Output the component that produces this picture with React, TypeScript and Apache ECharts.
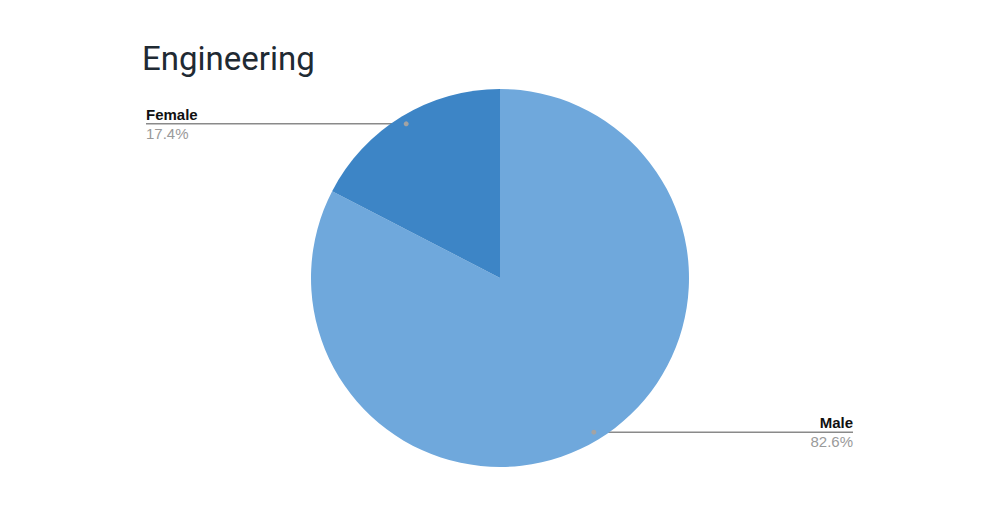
import { useEffect, useRef } from "react";
import * as echarts from "echarts";

const TITLE = "Engineering";
const NAMES = ["Male", "Female"];
const VALUES = [82.6, 17.4];
const COLORS = ["#6fa8dc", "#3d85c6"];

const CX = 500;
const CY = 278;
const R = 189;

// mid angle of each slice (start at 12 o'clock, clockwise)
function midAngles(values: number[]) {
  const total = values.reduce((a, b) => a + b, 0);
  let acc = 0;
  return values.map((v) => {
    const mid = acc + v / 2;
    acc += v;
    return Math.PI / 2 - (mid / total) * Math.PI * 2;
  });
}

export default function App() {
  const ref = useRef<HTMLDivElement>(null);

  useEffect(() => {
    if (!ref.current) return;
    const chart = echarts.init(ref.current, undefined, { renderer: "svg" });

    const mids = midAngles(VALUES);
    const anchors = mids.map((a) => [CX + Math.cos(a) * R * 0.955, CY - Math.sin(a) * R * 0.955]);
    // label edge: right side labels right-aligned, left side left-aligned
    const labelX = [853, 146];

    chart.setOption({
      animation: false,
      title: {
        text: TITLE,
        left: 137,
        top: 37,
        textStyle: {
          fontFamily: "Roboto",
          fontSize: 33,
          fontWeight: "normal",
          color: "#1f2a33",
        },
      },
      graphic: anchors.map((p) => ({
        type: "circle",
        shape: { cx: p[0], cy: p[1], r: 2.5 },
        style: { fill: "#a3a3a3" },
        z: 100,
      })),
      series: [
        {
          type: "pie",
          center: [CX, CY],
          radius: R,
          startAngle: 90,
          clockwise: true,
          percentPrecision: 1,
          data: NAMES.map((n, i) => ({ name: n, value: VALUES[i], itemStyle: { color: COLORS[i] } })),
          itemStyle: { borderWidth: 0 },
          label: {
            formatter: "{n|{b}}\n{p|{d}%}",
            rich: {
              n: { fontFamily: "Liberation Sans", fontSize: 15, fontWeight: "bold", color: "#111", lineHeight: 19 },
              p: { fontFamily: "Liberation Sans", fontSize: 15, color: "#9a9a9a", lineHeight: 19 },
            },
          },
          labelLine: { show: true, lineStyle: { color: "#8a8a8a", width: 1.5 } },
          labelLayout: (params: any) => {
            const i = params.dataIndex;
            const a = anchors[i];
            const right = i === 0;
            return {
              x: labelX[i],
              y: a[1],
              align: right ? "right" : "left",
              verticalAlign: "middle",
              labelLinePoints: [
                [a[0], a[1]],
                [labelX[i], a[1]],
                [labelX[i], a[1]],
              ],
            };
          },
        },
      ],
    });

    return () => chart.dispose();
  }, []);

  return (
    <div
      ref={ref}
      style={{ position: "fixed", left: 0, top: 0, width: 1000, height: 515, background: "#fff" }}
    />
  );
}
